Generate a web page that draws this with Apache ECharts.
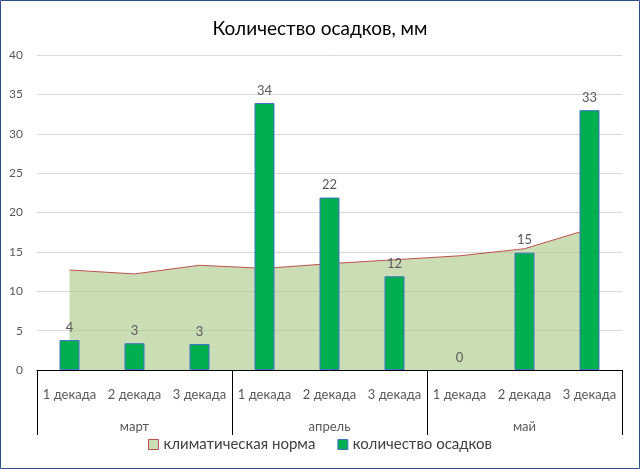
<!DOCTYPE html>
<html>
<head>
<meta charset="utf-8">
<script src="https://cdn.jsdelivr.net/npm/echarts@6/dist/echarts.min.js"></script>
<style>
  html, body { margin: 0; padding: 0; background: #fff; }
  #main { width: 640px; height: 469px; }
</style>
</head>
<body>
<div id="main"></div>
<script type="text/javascript">
	// подписи оси
	var decades = ['1 декада', '2 декада', '3 декада', '1 декада', '2 декада', '3 декада', '1 декада', '2 декада', '3 декада'];
	var months = ['март', 'апрель', 'май'];
	// значения
	var norma = [12.7, 12.2, 13.3, 12.9, 13.5, 14.0, 14.5, 15.4, 17.9];
	var osadki = [3.8, 3.4, 3.3, 33.9, 21.9, 11.9, 0, 14.9, 33.0];

	var myChart = echarts.init(document.getElementById('main'));

	myChart.setOption({
		textStyle: { fontFamily: 'Lato' },
		title: {
			text: 'Количество осадков, мм',
			left: 'center',
			top: 14,
			textStyle: { fontSize: 19, fontWeight: 'normal', color: '#000', fontFamily: 'Lato' }
		},
		graphic: [{
			type: 'rect',
			shape: { x: 0.5, y: 0.5, width: 639, height: 468 },
			style: { fill: 'none', stroke: '#2F528F', lineWidth: 1 },
			silent: true
		}],
		legend: {
			bottom: 12,
			left: 'center',
			itemWidth: 10,
			itemHeight: 10,
			itemGap: 22,
			icon: 'rect',
			textStyle: { fontSize: 15, color: '#404040' },
			data: [
				{ name: 'климатическая норма', itemStyle: { color: '#CADDB5', borderColor: '#C0504D', borderWidth: 1 } },
				{ name: 'количество осадков', itemStyle: { color: '#00B050', borderColor: '#4472C4', borderWidth: 1 } }
			]
		},
		grid: { left: 37, right: 18, top: 55, bottom: 99 },
		xAxis: [{
			type: 'category',
			data: decades,
			axisLine: { lineStyle: { color: '#000', width: 1 } },
			axisTick: { show: false },
			axisLabel: { margin: 18, fontSize: 13, color: '#595959', interval: 0 }
		}, {
			type: 'category',
			data: months,
			position: 'bottom',
			axisLine: { show: false },
			axisTick: { show: true, length: 65, lineStyle: { color: '#000', width: 1 } },
			axisLabel: { margin: 50, fontSize: 13, color: '#595959' }
		}],
		yAxis: {
			type: 'value',
			min: 0,
			max: 40,
			interval: 5,
			axisLabel: { margin: 14, fontSize: 12, color: '#595959' },
			splitLine: { lineStyle: { color: '#D9D9D9', width: 1 } },
			axisLine: { show: false },
			axisTick: { show: false }
		},
		series: [{
			name: 'климатическая норма',
			type: 'line',
			data: norma,
			symbol: 'none',
			itemStyle: { color: '#CADDB5', borderColor: '#C0504D' },
			lineStyle: { color: '#C0504D', width: 1 },
			areaStyle: { color: 'rgba(167,198,132,0.6)', opacity: 1 },
			z: 1
		}, {
			name: 'количество осадков',
			type: 'bar',
			data: osadki.map(function (v) {
				return v === 0 ? { value: v, itemStyle: { borderWidth: 0 } } : v;
			}),
			barWidth: 20,
			itemStyle: { color: '#00B050', borderColor: '#4472C4', borderWidth: 1 },
			label: {
				show: true,
				position: 'top',
				distance: 6,
				fontSize: 13,
				color: '#595959',
				formatter: function (p) { return Math.round(p.value); }
			},
			z: 3
		}]
	});
</script>
</body>
</html>
